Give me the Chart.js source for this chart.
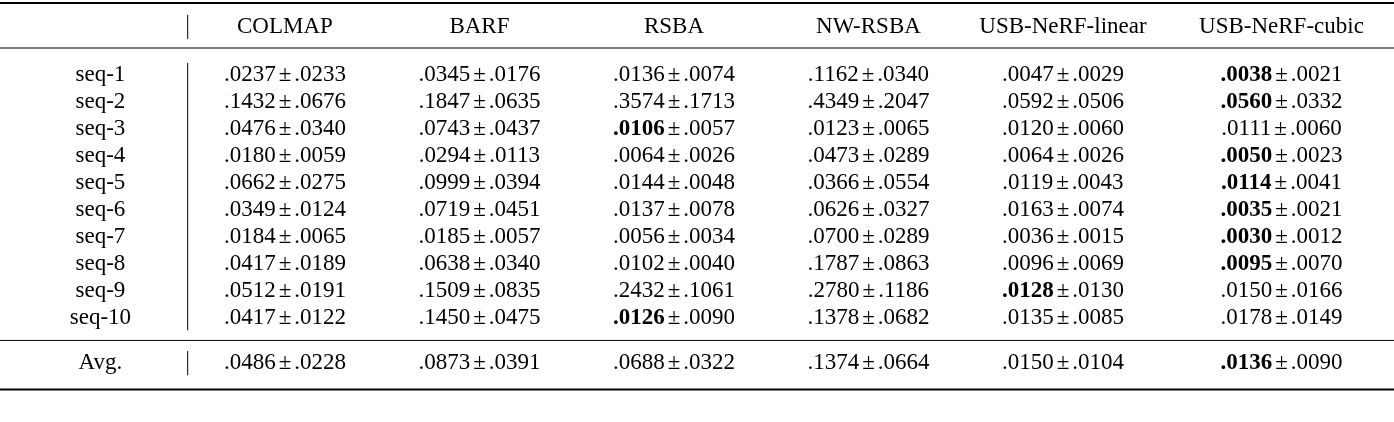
<!DOCTYPE html>
<html><head><meta charset="utf-8">
<script src="https://cdn.jsdelivr.net/npm/chart.js@4/dist/chart.umd.min.js"></script>
<style>html,body{margin:0;padding:0;background:#fff}#w{width:1394px;height:422px}</style>
</head><body><div id="w"><canvas id="c"></canvas></div>
<script>
const methods = ["COLMAP","BARF","RSBA","NW-RSBA","USB-NeRF-linear","USB-NeRF-cubic"];
const rowLabels = ["seq-1","seq-2","seq-3","seq-4","seq-5","seq-6","seq-7","seq-8","seq-9","seq-10"];
const means = [
 [".0237",".0345",".0136",".1162",".0047",".0038"],
 [".1432",".1847",".3574",".4349",".0592",".0560"],
 [".0476",".0743",".0106",".0123",".0120",".0111"],
 [".0180",".0294",".0064",".0473",".0064",".0050"],
 [".0662",".0999",".0144",".0366",".0119",".0114"],
 [".0349",".0719",".0137",".0626",".0163",".0035"],
 [".0184",".0185",".0056",".0700",".0036",".0030"],
 [".0417",".0638",".0102",".1787",".0096",".0095"],
 [".0512",".1509",".2432",".2780",".0128",".0150"],
 [".0417",".1450",".0126",".1378",".0135",".0178"]];
const stds = [
 [".0233",".0176",".0074",".0340",".0029",".0021"],
 [".0676",".0635",".1713",".2047",".0506",".0332"],
 [".0340",".0437",".0057",".0065",".0060",".0060"],
 [".0059",".0113",".0026",".0289",".0026",".0023"],
 [".0275",".0394",".0048",".0554",".0043",".0041"],
 [".0124",".0451",".0078",".0327",".0074",".0021"],
 [".0065",".0057",".0034",".0289",".0015",".0012"],
 [".0189",".0340",".0040",".0863",".0069",".0070"],
 [".0191",".0835",".1061",".1186",".0130",".0166"],
 [".0122",".0475",".0090",".0682",".0085",".0149"]];
const bestCol = [5,5,2,5,5,5,5,5,4,2];
const avgMeans = [".0486",".0873",".0688",".1374",".0150",".0136"];
const avgStds = [".0228",".0391",".0322",".0664",".0104",".0090"];
const avgBest = 5;

const HEADER_Y = -0.78, AVG_Y = 11.67;
const cells = [];
methods.forEach((m,i)=>cells.push({x:i+1,y:HEADER_Y}));
rowLabels.forEach((r,j)=>{for(let i=0;i<=6;i++)cells.push({x:i,y:j+1});});
for(let i=0;i<=6;i++)cells.push({x:i,y:AVG_Y});

const FONT = '23px "Liberation Serif", "Times New Roman", serif';
const BFONT = 'bold 23px "Liberation Serif", "Times New Roman", serif';
const GAP = 3;
function cell(ctx,x,y,m,s,bold){
  ctx.font = bold?BFONT:FONT; const w1 = ctx.measureText(m).width;
  ctx.font = FONT; const wpm = ctx.measureText("\u00B1").width; const w2 = ctx.measureText(s).width;
  const tot = w1+GAP+wpm+GAP+w2;
  const x0 = x-tot/2;
  ctx.textAlign='left';
  ctx.font = bold?BFONT:FONT; ctx.fillText(m,x0,y);
  ctx.font = FONT; ctx.fillText("\u00B1",x0+w1+GAP,y);
  ctx.fillText(s,x0+w1+GAP+wpm+GAP,y);
}
const tablePlugin = {id:'table', afterDraw(chart){
  const ctx=chart.ctx, xs=chart.scales.x, ys=chart.scales.y;
  const X=v=>xs.getPixelForValue(v), Y=v=>ys.getPixelForValue(v);
  const CX=i=>X(i)+(i===6?24:0);
  ctx.save(); ctx.fillStyle='#000'; ctx.strokeStyle='#000'; ctx.textBaseline='middle';
  const hl=(v,w)=>{ctx.lineWidth=w;ctx.beginPath();ctx.moveTo(X(-0.47),Y(v));ctx.lineTo(X(6.71),Y(v));ctx.stroke();};
  hl(-1.67,2); hl(0,1); hl(10.83,1); hl(12.65,2);
  const vl=(a,b)=>{ctx.lineWidth=1;ctx.beginPath();ctx.moveTo(X(0.5),Y(a));ctx.lineTo(X(0.5),Y(b));ctx.stroke();};
  vl(HEADER_Y-0.45,HEADER_Y+0.45); vl(0.55,10.45); vl(AVG_Y-0.45,AVG_Y+0.45);
  ctx.font=FONT; ctx.textAlign='center';
  methods.forEach((m,i)=>ctx.fillText(m,CX(i+1),Y(HEADER_Y)));
  rowLabels.forEach((r,j)=>{
    ctx.font=FONT; ctx.textAlign='center'; ctx.fillText(r,X(0)+10,Y(j+1));
    for(let i=0;i<6;i++) cell(ctx,CX(i+1),Y(j+1),means[j][i],stds[j][i],bestCol[j]===i);
  });
  ctx.font=FONT; ctx.textAlign='center'; ctx.fillText("Avg.",X(0)+10,Y(AVG_Y));
  for(let i=0;i<6;i++) cell(ctx,CX(i+1),Y(AVG_Y),avgMeans[i],avgStds[i],avgBest===i);
  ctx.restore();
}};
new Chart(document.getElementById('c'),{
  type:'scatter',
  data:{datasets:[{data:cells,pointRadius:0,pointHoverRadius:0}]},
  options:{responsive:true,maintainAspectRatio:false,animation:false,events:[],
    layout:{padding:0},
    plugins:{legend:{display:false},tooltip:{enabled:false}},
    scales:{
      x:{type:'linear',display:false,min:-0.465,max:6.702},
      y:{type:'linear',display:false,reverse:true,min:-1.778,max:13.852}
    }},
  plugins:[tablePlugin]
});
</script></body></html>
